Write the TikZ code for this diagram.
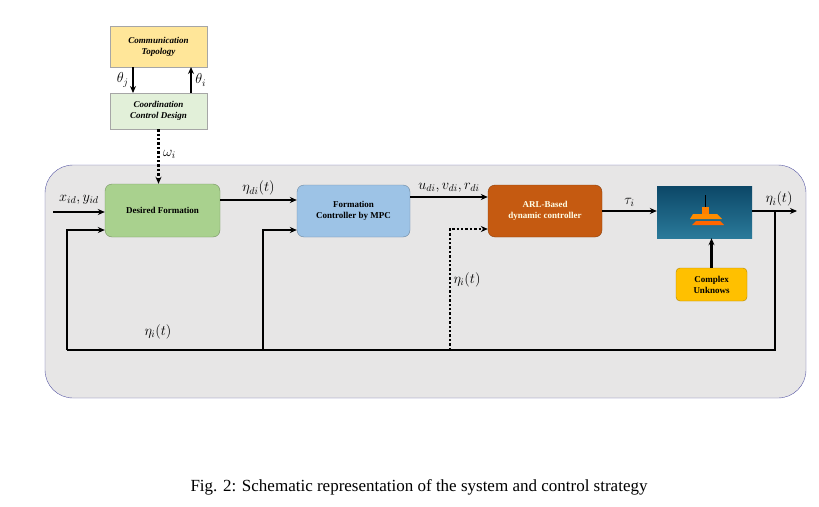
\documentclass[tikz,border=0pt]{standalone}
\usepackage{fontspec}
\setmainfont{Liberation Serif}
\usetikzlibrary{arrows.meta}
\begin{document}
\begin{tikzpicture}[x=1pt,y=-1pt,
  blk/.style={draw=#1!70!black, rounded corners=7pt, align=center, font=\bfseries\fontsize{9}{11}\selectfont, inner sep=1pt},
  top/.style={draw=gray!70, align=center, font=\bfseries\itshape\fontsize{9}{11}\selectfont, inner sep=1pt},
  lab/.style={font=\fontsize{14}{16}\selectfont},
  arr/.style={line width=2.2pt, -{Stealth[length=7pt,width=6pt]}},
  lin/.style={line width=2.2pt},
  dot/.style={line width=2.4pt, dotted}]
\useasboundingbox (0,0) rectangle (819,506);
\definecolor{topy}{HTML}{FFE699}
\definecolor{coord}{HTML}{E2F0D9}
\definecolor{bg}{HTML}{E7E6E6}
\definecolor{grn}{HTML}{A9D18E}
\definecolor{blu}{HTML}{9DC3E6}
\definecolor{org}{HTML}{C55A11}
\definecolor{yel}{HTML}{FFC000}
\definecolor{sea1}{HTML}{0C4767}
\definecolor{sea2}{HTML}{2A7A9A}

% background panel
\draw[draw=blue!30!gray, fill=bg, rounded corners=28pt] (45,165) rectangle (806,398);

% top blocks
\node[top, fill=topy, minimum width=97pt, minimum height=41pt] (ct) at (158.5,46.5) {Communication\\Topology};
\node[top, fill=coord, minimum width=97pt, minimum height=36pt] (cc) at (158.5,111) {Coordination\\Control Design};

% main blocks
\node[blk=grn, fill=grn, minimum width=115pt, minimum height=53pt] (df) at (162.5,210.5) {Desired Formation};
\node[blk=blu, fill=blu, minimum width=113pt, minimum height=52pt] (mpc) at (353.5,211) {Formation\\Controller by MPC};
\node[blk=org, fill=org, text=white!90!yellow, minimum width=114pt, minimum height=52pt] (arl) at (545,211) {ARL-Based\\dynamic controller};
\node[blk=yel, fill=yel, minimum width=71pt, minimum height=33pt, rounded corners=4pt] (cu) at (711.5,284.5) {Complex\\Unknows};

% vessel picture
\node[inner sep=0pt, minimum width=95pt, minimum height=52pt, top color=sea2, bottom color=sea1, shading angle=180] (ves) at (704.5,212) {};
\fill[orange!90!yellow] (693,214) -- (717,214) -- (722,219) -- (690,219) -- cycle;
\fill[orange!80!red] (696,221) -- (720,221) -- (724,225) -- (692,225) -- cycle;
\fill[orange] (702,207) rectangle (709,214);
\draw[black, line width=0.8pt] (705,195) -- (705,207);

% coordinates
\coordinate (in) at (53,212);
\coordinate (out) at (797,211);
\coordinate (tap) at (775,211);
\coordinate (b0) at (67,350);
\coordinate (b1) at (263,350);
\coordinate (b2) at (450,350);
\coordinate (b3) at (775,350);
\coordinate (k0) at (67,230);
\coordinate (k1) at (263,230);
\coordinate (k2) at (450,229);

% top links
\draw[arr] (133,67) -- node[lab, left]{$\theta_j$} (133,93);
\draw[arr] (191,93) -- node[lab, right]{$\theta_i$} (191,67);
\draw[dot, -{Stealth[length=7pt,width=6pt]}] (cc.south) -- node[lab, right, yshift=2pt]{$\omega_i$} (df.north -| cc.south);

% forward path
\draw[arr] (in) -- node[lab, above, yshift=3pt]{$x_{id},y_{id}$} (df.west |- in);
\draw[arr] (df.east |- 0,200) -- node[lab, above]{$\eta_{di}(t)$} (mpc.west |- 0,200);
\draw[arr] (mpc.east |- 0,197) -- node[lab, above]{$u_{di},v_{di},r_{di}$} (arl.west |- 0,197);
\draw[arr] (arl.east) -- node[lab, above]{$\tau_i$} (ves.west |- arl.east);
\draw[arr] (ves.east |- out) -- node[lab, above, pos=0.6]{$\eta_i(t)$} (out);
\draw[arr] (cu.north) -- (ves.south -| cu.north);

% feedback
\draw[lin] (tap) -- (b3) -- (b0);
\draw[arr] (b0) -- (k0) -- (df.west |- k0);
\draw[arr] (b1) -- (k1) -- (mpc.west |- k1);
\draw[dot, -{Stealth[length=7pt,width=6pt]}] (b2) -- (k2) -- (arl.west |- k2);
\node[lab] at (158,332) {$\eta_i(t)$};
\node[lab] at (467,280) {$\eta_i(t)$};

% caption
\node[font=\fontsize{17}{20}\selectfont] (cap) at (419,487) {Fig. 2: Schematic representation of the system and control strategy};
\end{tikzpicture}
\end{document}
